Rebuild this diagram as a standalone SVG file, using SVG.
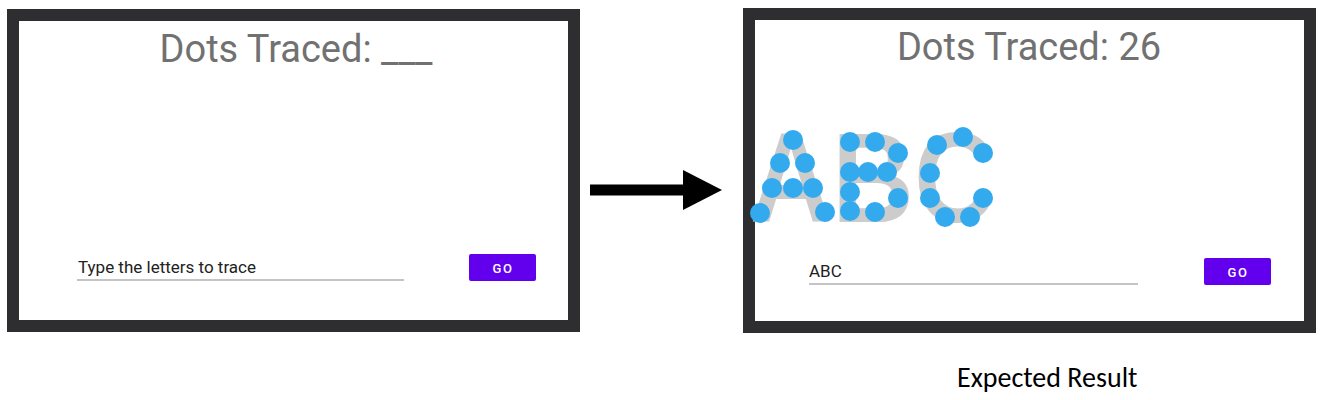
<svg xmlns="http://www.w3.org/2000/svg" width="1331" height="400" viewBox="0 0 1331 400">
<style>
.frame{fill:#fff;stroke:#2e2e30;stroke-width:12}
.title{font-family:Roboto,"Liberation Sans",sans-serif;font-size:38px;fill:#717171;text-anchor:middle}
.inp{font-family:Roboto,"Liberation Sans",sans-serif;font-size:17px;fill:#222}
.ul{stroke:#8a8a8a;stroke-width:1.2}
.btn{fill:#6200ee}
.btxt{font-family:Roboto,"Liberation Sans",sans-serif;font-size:13px;font-weight:500;fill:#fff;text-anchor:middle;letter-spacing:1.5px}
.dot{fill:#33aaee}
</style>
<g id="screen-before">
<rect class="frame" x="13" y="15" width="561" height="311"/>
<text class="title" x="296" y="62">Dots Traced: ___</text>
<text class="inp" x="78" y="273">Type the letters to trace</text>
<line class="ul" x1="77" y1="280" x2="404" y2="280"/>
<rect class="btn" x="469" y="254" width="67" height="27" rx="2"/>
<text class="btxt" x="503" y="273">GO</text>
</g>
<g id="connectors">
<line x1="590" y1="190" x2="686" y2="190" stroke="#000" stroke-width="11"/>
<polygon points="683,170 722,190 683,210" fill="#000"/>
</g>
<g id="screen-after">
<rect class="frame" x="749" y="14" width="561" height="313"/>
<text class="title" x="1029" y="60">Dots Traced: 26</text>
<text x="750" y="222" font-family="Liberation Sans,sans-serif" font-weight="bold" font-size="128" fill="#cccccc" textLength="246" lengthAdjust="spacingAndGlyphs">ABC</text>
<g>
<circle class="dot" cx="793" cy="140" r="10"/><circle class="dot" cx="780" cy="163" r="10"/><circle class="dot" cx="805" cy="163" r="10"/>
<circle class="dot" cx="772" cy="188" r="10"/><circle class="dot" cx="793" cy="188" r="10"/><circle class="dot" cx="813" cy="188" r="10"/>
<circle class="dot" cx="760" cy="213" r="10"/><circle class="dot" cx="825" cy="212" r="10"/>
<circle class="dot" cx="850" cy="142" r="10"/><circle class="dot" cx="875" cy="142" r="10"/><circle class="dot" cx="898" cy="153" r="10"/>
<circle class="dot" cx="850" cy="172" r="10"/><circle class="dot" cx="868" cy="172" r="10"/><circle class="dot" cx="887" cy="172" r="10"/>
<circle class="dot" cx="850" cy="192" r="10"/><circle class="dot" cx="898" cy="198" r="10"/><circle class="dot" cx="850" cy="211" r="10"/><circle class="dot" cx="875" cy="212" r="10"/>
<circle class="dot" cx="963" cy="137" r="10"/><circle class="dot" cx="937" cy="145" r="10"/><circle class="dot" cx="983" cy="153" r="10"/>
<circle class="dot" cx="930" cy="173" r="10"/><circle class="dot" cx="930" cy="198" r="10"/><circle class="dot" cx="983" cy="198" r="10"/>
<circle class="dot" cx="945" cy="217" r="10"/><circle class="dot" cx="970" cy="217" r="10"/>
</g>
<text class="inp" x="809" y="277">ABC</text>
<line class="ul" x1="809" y1="284" x2="1138" y2="284"/>
<rect class="btn" x="1204" y="258" width="67" height="27" rx="2"/>
<text class="btxt" x="1238" y="277">GO</text>
</g>
<text x="957" y="387" font-family="Carlito,'Liberation Sans',sans-serif" font-size="28" fill="#000">Expected Result</text>
</svg>
